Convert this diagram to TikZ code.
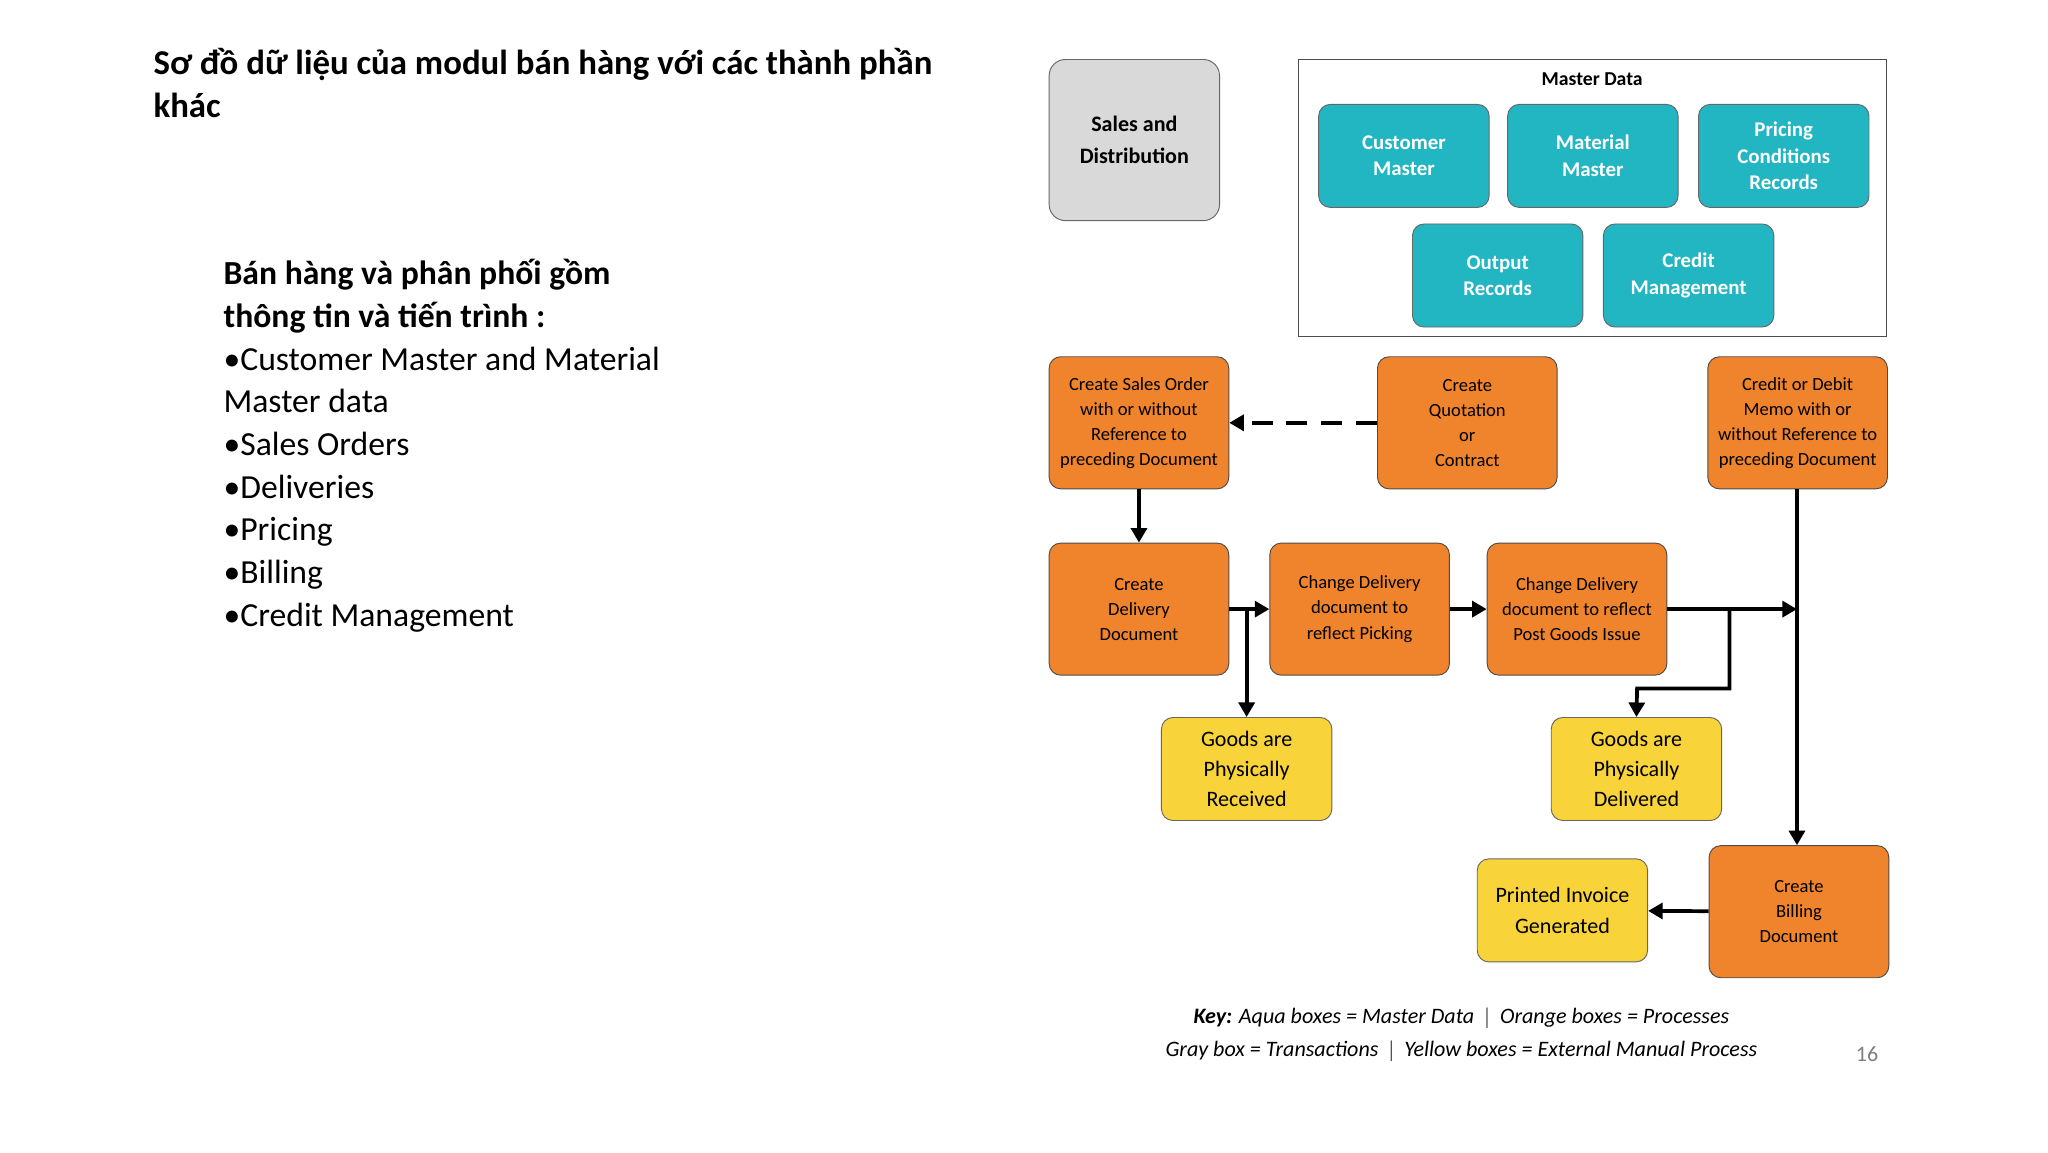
\documentclass[tikz,border=0pt]{standalone}
\usepackage{fontspec}
\setmainfont{Carlito}
\usetikzlibrary{positioning}
\usetikzlibrary{arrows.meta}
\definecolor{procorange}{HTML}{F0842C}
\definecolor{masteraqua}{HTML}{22B5C2}
\definecolor{extyellow}{HTML}{F8D43A}
\definecolor{transgray}{HTML}{D9D9D9}
\tikzset{process/.style={rectangle,rounded corners=5pt,draw=black!70,fill=procorange,
inner sep=2pt,minimum height=2.0cm, minimum width=2.72cm,align=center,font=\fontsize{8}{10.8}\selectfont}}
\tikzset{master/.style={rectangle,rounded corners=5pt,draw=black!60,fill=masteraqua,text=white,
inner sep=2pt,minimum height=1.56cm, minimum width=2.58cm,align=center,font=\bfseries\fontsize{9}{11.4}\selectfont}}
\tikzset{manual/.style={rectangle,rounded corners=5pt,draw=black!60,fill=extyellow,
inner sep=2pt,minimum height=1.56cm, minimum width=2.58cm,align=center,font=\fontsize{9.5}{13}\selectfont}}
\tikzset{flow/.style={line width=1.6pt,-{Triangle[length=2.2mm,width=2.4mm]}}}
\begin{document}
\begin{tikzpicture}[x=0.02cm,y=-0.02cm]
    \useasboundingbox (0,0) rectangle (1550,872);

    \node[anchor=north west,font=\bfseries\fontsize{15}{18.5}\selectfont,align=left] (title) at (110,30)
        {Sơ đồ dữ liệu của modul bán hàng với các thành phần\\khác};
    \node[anchor=north west,font=\fontsize{14.5}{18.4}\selectfont,align=left] (intro) at (163,190)
        {\textbf{Bán hàng và phân phối gồm}\\\textbf{thông tin và tiến trình :}\\
        •Customer Master and Material\\Master data\\•Sales Orders\\•Deliveries\\•Pricing\\•Billing\\•Credit Management};

    \node[rectangle,rounded corners=7pt,draw=black!60,fill=transgray,minimum width=2.58cm,minimum height=2.44cm,
        align=center,font=\bfseries\fontsize{9.5}{14}\selectfont] (sd) at (858.5,106) {Sales and\\Distribution};

    \node[rectangle,draw=black!70,minimum width=8.9cm,minimum height=4.2cm] (mdframe) at (1205.5,150) {};
    \node[font=\bfseries\fontsize{8.5}{10}\selectfont] (mdtitle) at (1205,60) {Master Data};
    \node[master] (customer) at (1062.5,118) {Customer\\Master};
    \node[master] (material) at (1205.5,118) {Material\\Master};
    \node[master] (pricing) at (1350,118) {Pricing\\Conditions\\Records};
    \node[master] (output) at (1133.5,208.5) {Output\\Records};
    \node[master] (credit) at (1278,208.5) {Credit\\Management};

    \node[process] (salesorder) at (862,320) {Create Sales Order\\with or without\\Reference to\\preceding Document};
    \node[process] (quotation) at (1110.5,320) {Create\\Quotation\\or\\Contract};
    \node[process] (memo) at (1360.5,320) {Credit or Debit\\Memo with or\\without Reference to\\preceding Document};
    \node[process] (delivery) at (862,461) {Create\\Delivery\\Document};
    \node[process] (picking) at (1029,461) {Change Delivery\\document to\\reflect Picking};
    \node[process] (pgi) at (1193.5,461) {Change Delivery\\document to reflect\\Post Goods Issue};
    \node[process] (billing) at (1361.5,690) {Create\\Billing\\Document};

    \node[manual] (received) at (943.5,582) {Goods are\\Physically\\Received};
    \node[manual] (delivered) at (1238.5,582) {Goods are\\Physically\\Delivered};
    \node[manual] (invoice) at (1182.5,689) {Printed Invoice\\Generated};

    \coordinate (junction) at (1360,461);

    \draw[flow,dashed,dash pattern=on 9pt off 6pt] (quotation.west) -- (salesorder.east);
    \draw[flow] (salesorder) -- (delivery);
    \draw[flow] (delivery) -- (picking);
    \draw[flow] (delivery.east -| received.north) -- (received.north);
    \draw[flow] (picking) -- (pgi);
    \draw[flow] (pgi.east) -- (junction);
    \draw[flow] (pgi.east -| 1309,0) |- (1239,521) -- (delivered.north);
    \draw[flow] (memo.south -| junction) -- (billing.north -| junction);
    \draw[flow] (billing) -- (invoice);

    \node[font=\itshape\fontsize{9.5}{14}\selectfont,align=center] (key) at (1106,783)
        {\textbf{Key:} Aqua boxes = Master Data \ $|$ \ Orange boxes = Processes\\
        Gray box = Transactions \ $|$ \ Yellow boxes = External Manual Process};
    \node[text=black!50,font=\fontsize{9.5}{12}\selectfont] (page) at (1413,798) {16};
\end{tikzpicture}
\end{document}
